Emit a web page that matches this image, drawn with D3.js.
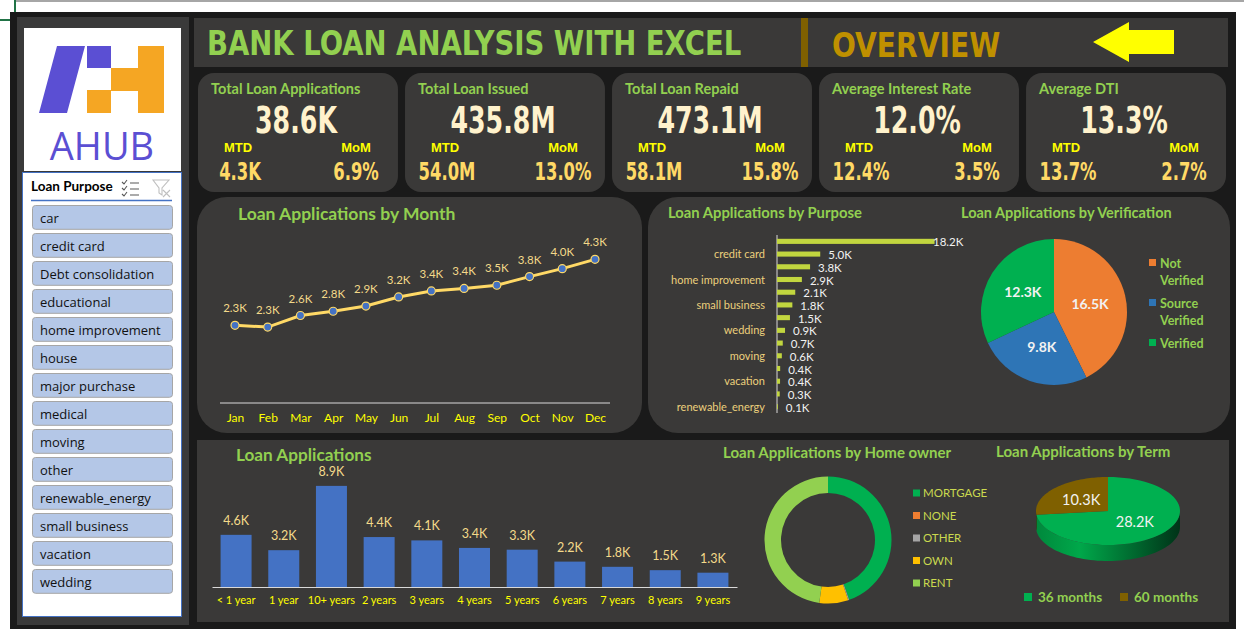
<!DOCTYPE html>
<html>
<head>
<meta charset="utf-8">
<script src="https://cdn.jsdelivr.net/npm/d3@7"></script>
<style>
	body {margin:0; background:#ffffff;}
	svg {display:block;}
</style>
</head>
<body>
<svg></svg>
<script>
// chart data

const kpiTitles = ["Total Loan Applications", "Total Loan Issued", "Total Loan Repaid", "Average Interest Rate", "Average DTI"]
const kpiValues = ["38.6K", "435.8M", "473.1M", "12.0%", "13.3%"]
const kpiMtd = ["4.3K", "54.0M", "58.1M", "12.4%", "13.7%"]
const kpiMom = ["6.9%", "13.0%", "15.8%", "3.5%", "2.7%"]

const months = ["Jan", "Feb", "Mar", "Apr", "May", "Jun", "Jul", "Aug", "Sep", "Oct", "Nov", "Dec"]
const monthApps = [2332, 2279, 2627, 2755, 2911, 3184, 3366, 3441, 3536, 3796, 4035, 4314]

const purposes = ["Debt consolidation", "credit card", "other", "home improvement", "major purchase", "small business", "car", "wedding", "medical", "moving", "house", "vacation", "educational", "renewable_energy"]
const purposeApps = [18214, 4998, 3824, 2876, 2110, 1776, 1497, 928, 667, 559, 366, 352, 315, 94]

const verLabels = ["Not Verified", "Source Verified", "Verified"]
const verApps = [16464, 9777, 12335]

const empLength = ["< 1 year", "1 year", "10+ years", "2 years", "3 years", "4 years", "5 years", "6 years", "7 years", "8 years", "9 years"]
const empApps = [4575, 3229, 8870, 4382, 4088, 3428, 3273, 2228, 1772, 1476, 1255]

const homeLabels = ["MORTGAGE", "NONE", "OTHER", "OWN", "RENT"]
const homeApps = [17198, 3, 98, 2838, 18439]

const termLabels = ["36 months", "60 months"]
const termApps = [28237, 10339]

const slicerItems = ["car", "credit card", "Debt consolidation", "educational", "home improvement", "house", "major purchase", "medical", "moving", "other", "renewable_energy", "small business", "vacation", "wedding"]

// fonts + colours
const narrow = "'Liberation Sans Narrow', 'DejaVu Sans Condensed', sans-serif"
const body = "Lato, 'Open Sans', sans-serif"
const green = "#92d050"
const panel = "#3a3938"
const fmtK = d => (d / 1000).toFixed(1) + "K"

const svg = d3.select("svg")
	.attr("width", 1244)
	.attr("height", 639)
	.attr("viewBox", "0 0 1244 639")

// condensed bold text: the installed fonts are too wide, so squeeze them
const squeezed = (parent, x, y, sx, size, fill, anchor) => parent.append("g")
	.attr("transform", `translate(${x},${y}) scale(${sx},1)`)
	.append("text")
	.attr("text-anchor", anchor)
	.attr("font-family", narrow).attr("font-weight", 700).attr("font-size", size)
	.attr("fill", fill)

//---------------- sheet background + frame
svg.append("line").attr("x1", 15).attr("x2", 1244).attr("y1", 1).attr("y2", 1)
	.attr("stroke", "#a6a6a6").attr("stroke-width", 2)
svg.append("path").attr("d", "M15,0V12M0,20H10")
	.attr("stroke", "#217346").attr("stroke-width", 2).attr("fill", "none")

svg.append("rect").attr("x", 10).attr("y", 12).attr("width", 1226).attr("height", 617).attr("fill", "#1a1a1a")
svg.append("rect").attr("x", 17).attr("y", 17).attr("width", 172).attr("height", 608).attr("fill", "#3a3a3a")

//---------------- logo
const logo = svg.append("g")
logo.append("rect").attr("x", 24).attr("y", 28).attr("width", 157).attr("height", 143).attr("fill", "#ffffff")
logo.append("path").attr("d", "M57,46L85,46L67,113L39,113Z M87,46H111V68H87Z").attr("fill", "#5b4fd3")
logo.append("path").attr("d", "M87,90H111V113H87Z M111,68H138V91H111Z M138,46H164V113H138Z").attr("fill", "#f5a623")
logo.append("text").attr("x", 102).attr("y", 160).attr("text-anchor", "middle")
	.attr("font-family", "'Open Sans', sans-serif").attr("font-weight", 400).attr("font-size", 38)
	.attr("fill", "#5b4fd3").text("AHUB")

//---------------- slicer
const slicer = svg.append("g")
slicer.append("rect").attr("x", 22.5).attr("y", 172.5).attr("width", 159).attr("height", 444)
	.attr("fill", "#ffffff").attr("stroke", "#4472c4")
slicer.append("text").attr("x", 31).attr("y", 191)
	.attr("font-family", body).attr("font-weight", 700).attr("font-size", 13.5).attr("fill", "#000")
	.text("Loan Purpose")
// multi select icon
slicer.append("path")
	.attr("d", "M122,182l2,2l3,-4M130,183h9M122,188l2,2l3,-4M130,189h9M122,194l2,2l3,-4M130,195h9")
	.attr("stroke", "#595959").attr("stroke-width", 1.1).attr("fill", "none")
// clear filter icon
slicer.append("path")
	.attr("d", "M153,180H169L162,188V195L159,193V188Z M163,190l7,7M170,190l-7,7")
	.attr("stroke", "#bfbfbf").attr("stroke-width", 1.1).attr("fill", "none")
slicer.append("line").attr("x1", 31).attr("x2", 172).attr("y1", 200.5).attr("y2", 200.5)
	.attr("stroke", "#4472c4").attr("stroke-width", 1.5)

const slicerY = d3.scaleBand()
	.domain(slicerItems)
	.range([205.5, 205.5 + 28 * (slicerItems.length - 0.15)])
	.paddingInner(0.15)
	.paddingOuter(0)

const buttons = slicer.selectAll("g.btn")
	.data(slicerItems)
	.enter()
	.append("g")
	.attr("class", "btn")
buttons.append("rect")
	.attr("x", 32.5)
	.attr("y", d => slicerY(d))
	.attr("width", 140)
	.attr("height", slicerY.bandwidth())
	.attr("rx", 3)
	.attr("fill", "#b4c7e7")
	.attr("stroke", "#a6a6a6")
buttons.append("text")
	.attr("x", 40)
	.attr("y", d => slicerY(d) + 17)
	.attr("font-family", "'Open Sans', sans-serif")
	.attr("font-size", 13)
	.attr("fill", "#111")
	.text(d => d)

//---------------- title bar
svg.append("rect").attr("x", 194).attr("y", 18).attr("width", 1034).attr("height", 49).attr("fill", panel)
squeezed(svg, 207, 55, 0.9, 34, green, "start").text("BANK LOAN ANALYSIS WITH EXCEL")
svg.append("rect").attr("x", 801).attr("y", 18).attr("width", 7).attr("height", 49).attr("fill", "#7f6000")
squeezed(svg, 832, 57, 0.92, 34, "#bf9000", "start").text("OVERVIEW")
svg.append("path").attr("d", "M1093,42L1129,22V30H1174V54H1129V62Z").attr("fill", "#ffff00")

//---------------- KPI cards
const cardX = d3.scaleBand()
	.domain(kpiTitles)
	.range([198, 1226])
	.paddingInner(0.034)
	.paddingOuter(0)

const cards = svg.selectAll("g.card")
	.data(kpiTitles)
	.enter()
	.append("g")
	.attr("class", "card")
	.attr("transform", d => `translate(${cardX(d)},73)`)

cards.append("rect")
	.attr("width", cardX.bandwidth())
	.attr("height", 119)
	.attr("rx", 16)
	.attr("fill", panel)
cards.append("text")
	.attr("x", 13).attr("y", 21)
	.attr("font-family", body).attr("font-weight", 700).attr("font-size", 14.5)
	.attr("fill", green)
	.text(d => d)
cards.each(function (d, i) {
	const card = d3.select(this)
	squeezed(card, 98, 60, 0.76, 37, "#fff2cc", "middle").text(kpiValues[i])
	squeezed(card, 42, 107, 0.76, 24, "#ffd966", "middle").text(kpiMtd[i])
	squeezed(card, 158, 107, 0.76, 24, "#ffd966", "middle").text(kpiMom[i])
})
cards.append("text")
	.attr("x", 40).attr("y", 79)
	.attr("text-anchor", "middle")
	.attr("font-family", "'Liberation Sans', Arial, sans-serif").attr("font-weight", 700).attr("font-size", 13)
	.attr("fill", "#ffff00")
	.text("MTD")
cards.append("text")
	.attr("x", 158).attr("y", 79)
	.attr("text-anchor", "middle")
	.attr("font-family", "'Liberation Sans', Arial, sans-serif").attr("font-weight", 700).attr("font-size", 13)
	.attr("fill", "#ffff00")
	.text("MoM")

//---------------- panels
svg.append("rect").attr("x", 197).attr("y", 197).attr("width", 445).attr("height", 236).attr("rx", 30).attr("fill", panel)
svg.append("rect").attr("x", 648).attr("y", 197).attr("width", 582).attr("height", 236).attr("rx", 30).attr("fill", panel)
svg.append("rect").attr("x", 197).attr("y", 440).attr("width", 1032).attr("height", 182).attr("fill", panel)

const title = (x, y, size, txt) => svg.append("text")
	.attr("x", x).attr("y", y)
	.attr("font-family", body).attr("font-weight", 700).attr("font-size", size)
	.attr("fill", green)
	.text(txt)

//---------------- loan applications by month
title(238, 220, 17.5, "Loan Applications by Month")

const monthX = d3.scalePoint()
	.domain(months)
	.range([235, 595])
const monthY = d3.scaleLinear()
	.domain([0, 5000])
	.range([403, 236.5])

const monthAxis = svg.append("g")
	.attr("transform", "translate(0,403)")
	.call(d3.axisBottom(monthX).tickSize(0).tickPadding(10))
monthAxis.select(".domain").attr("d", "M220,0H610").attr("stroke", "#d9d9d9")
monthAxis.selectAll("text").attr("font-family", body).attr("font-size", 12).attr("fill", "#ffff00")

const line = d3.line()
	.x((d, i) => monthX(months[i]))
	.y(d => monthY(d))

svg.append("path")
	.attr("d", line(monthApps))
	.attr("fill", "none")
	.attr("stroke", "#ffd966")
	.attr("stroke-width", 3)

svg.selectAll("circle.m")
	.data(monthApps)
	.enter()
	.append("circle")
	.attr("class", "m")
	.attr("cx", (d, i) => monthX(months[i]))
	.attr("cy", d => monthY(d))
	.attr("r", 4)
	.attr("fill", "#4472c4")
	.attr("stroke", "#ffd966")
	.attr("stroke-width", 1.2)

svg.selectAll("text.m")
	.data(monthApps)
	.enter()
	.append("text")
	.attr("class", "m")
	.attr("x", (d, i) => monthX(months[i]))
	.attr("y", d => monthY(d) - 13)
	.attr("text-anchor", "middle")
	.attr("font-family", body).attr("font-size", 11.5)
	.attr("fill", "#f4d98a")
	.text(fmtK)

//---------------- loan applications by purpose
title(668, 218, 14.8, "Loan Applications by Purpose")

const purY = d3.scaleBand()
	.domain(purposes)
	.range([235, 413])
	.paddingInner(0.6)
	.paddingOuter(0.3)
const purX = d3.scaleLinear()
	.domain([0, 20000])
	.range([777, 950])

svg.append("line").attr("x1", 777).attr("x2", 777).attr("y1", 235).attr("y2", 413)
	.attr("stroke", "#d9d9d9").attr("stroke-width", 1)

svg.selectAll("rect.p")
	.data(purposeApps)
	.enter()
	.append("rect")
	.attr("class", "p")
	.attr("x", purX(0))
	.attr("y", (d, i) => purY(purposes[i]))
	.attr("width", d => purX(d) - purX(0))
	.attr("height", purY.bandwidth())
	.attr("fill", "#c2d63f")

svg.selectAll("text.pv")
	.data(purposeApps)
	.enter()
	.append("text")
	.attr("class", "pv")
	.attr("x", d => Math.min(purX(d) + 8, purX.range()[1] - 17))
	.attr("y", (d, i) => purY(purposes[i]) + purY.bandwidth() / 2 + 5)
	.attr("font-family", body).attr("font-size", 11.5)
	.attr("fill", "#f2f2f2")
	.text(fmtK)

svg.selectAll("text.pc")
	.data(purposes.filter((d, i) => i % 2 == 1))
	.enter()
	.append("text")
	.attr("class", "pc")
	.attr("x", 765)
	.attr("y", d => purY(d) + purY.bandwidth() / 2 + 4)
	.attr("text-anchor", "end")
	.attr("font-family", body).attr("font-size", 11)
	.attr("fill", "#ecd07c")
	.text(d => d)

//---------------- loan applications by verification
title(961, 218, 14.5, "Loan Applications by Verification")

const verColors = ["#ed7d31", "#2e75b6", "#00b050"]
const verPie = d3.pie().sort(null)(verApps)
const verArc = d3.arc().innerRadius(0).outerRadius(73)
const verLabelArc = d3.arc().innerRadius(37).outerRadius(37)

const verG = svg.append("g").attr("transform", "translate(1054,312)")
verG.selectAll("path")
	.data(verPie)
	.enter()
	.append("path")
	.attr("d", verArc)
	.attr("fill", (d, i) => verColors[i])
verG.selectAll("text")
	.data(verPie)
	.enter()
	.append("text")
	.attr("x", d => verLabelArc.centroid(d)[0])
	.attr("y", d => verLabelArc.centroid(d)[1] + 5)
	.attr("text-anchor", "middle")
	.attr("font-family", body).attr("font-weight", 700).attr("font-size", 14)
	.attr("fill", "#f2f2f2")
	.text(d => fmtK(d.data))

const verLegend = svg.selectAll("g.vl")
	.data(verLabels)
	.enter()
	.append("g")
	.attr("class", "vl")
	.attr("transform", (d, i) => `translate(1149,${258 + i * 40})`)
verLegend.append("rect")
	.attr("width", 7).attr("height", 7)
	.attr("y", 1)
	.attr("fill", (d, i) => verColors[i])
verLegend.append("text")
	.attr("font-family", body).attr("font-weight", 700).attr("font-size", 12.5)
	.attr("fill", green)
	.selectAll("tspan")
	.data(d => d.split(" "))
	.enter()
	.append("tspan")
	.attr("x", 11)
	.attr("y", (d, i) => 10 + i * 17)
	.text(d => d)

//---------------- loan applications by employee length
title(236, 461, 17.2, "Loan Applications")

const empX = d3.scaleBand()
	.domain(empLength)
	.range([212, 737])
	.paddingInner(0.35)
	.paddingOuter(0.18)
const empY = d3.scaleLinear()
	.domain([0, 10000])
	.range([587, 473])

svg.selectAll("rect.e")
	.data(empApps)
	.enter()
	.append("rect")
	.attr("class", "e")
	.attr("x", (d, i) => empX(empLength[i]))
	.attr("y", d => empY(d))
	.attr("width", empX.bandwidth())
	.attr("height", d => empY(0) - empY(d))
	.attr("fill", "#4472c4")

svg.selectAll("text.e")
	.data(empApps)
	.enter()
	.append("text")
	.attr("class", "e")
	.attr("x", (d, i) => empX(empLength[i]) + empX.bandwidth() / 2)
	.attr("y", d => empY(d) - 10)
	.attr("text-anchor", "middle")
	.attr("font-family", body).attr("font-size", 12.5)
	.attr("fill", "#f4d98a")
	.text(fmtK)

const empAxis = svg.append("g")
	.attr("transform", "translate(0,587)")
	.call(d3.axisBottom(empX).tickSize(0).tickPadding(9))
empAxis.select(".domain").attr("stroke", "#d9d9d9")
empAxis.selectAll("text").attr("font-family", body).attr("font-size", 11).attr("fill", "#ffff00")

//---------------- loan applications by home owner
title(723, 458, 15, "Loan Applications by Home owner")

const homeColors = ["#00b050", "#ed7d31", "#a5a5a5", "#ffc000", "#92d050"]
const homePie = d3.pie().sort(null)(homeApps)
const homeArc = d3.arc().innerRadius(47).outerRadius(63.5)

svg.append("g")
	.attr("transform", "translate(828,540)")
	.selectAll("path")
	.data(homePie)
	.enter()
	.append("path")
	.attr("d", homeArc)
	.attr("fill", (d, i) => homeColors[i])

const homeLegend = svg.selectAll("g.hl")
	.data(homeLabels)
	.enter()
	.append("g")
	.attr("class", "hl")
	.attr("transform", (d, i) => `translate(913,${493 + i * 22.5})`)
homeLegend.append("rect")
	.attr("y", -3.5).attr("width", 7).attr("height", 7)
	.attr("fill", (d, i) => homeColors[i])
homeLegend.append("text")
	.attr("x", 10).attr("y", 4)
	.attr("font-family", body).attr("font-size", 11.5)
	.attr("fill", "#cbd94f")
	.text(d => d)

//---------------- loan applications by term (3d pie)
title(996, 457, 15, "Loan Applications by Term")

const termColors = ["#00b050", "#7f6000"]
const tcx = 1108, tcy = 511, trx = 72, tryy = 34, depth = 16
const termPie = d3.pie().sort(null)(termApps)
const ell = (a, k) => [tcx + k * trx * Math.sin(a), tcy - k * tryy * Math.cos(a)]

const defs = svg.append("defs")
const sideGrad = [["#00883c", "#00a84a", "#003318"], ["#5a4400", "#6e5300", "#3a2c00"]]
sideGrad.forEach((c, i) => {
	const g = defs.append("linearGradient").attr("id", "side" + i)
	g.append("stop").attr("offset", "0%").attr("stop-color", c[0])
	g.append("stop").attr("offset", "30%").attr("stop-color", c[1])
	g.append("stop").attr("offset", "100%").attr("stop-color", c[2])
})

const topPath = s => {
	const pts = d3.range(61).map(j => ell(s.startAngle + (s.endAngle - s.startAngle) * j / 60, 1))
	return `M${tcx},${tcy}L` + pts.map(p => p.join(",")).join("L") + "Z"
}
const sidePath = s => {
	const a0 = Math.max(s.startAngle, Math.PI / 2)
	const a1 = Math.min(s.endAngle, Math.PI * 1.5)
	if (a1 <= a0) return null
	const top = d3.range(61).map(j => ell(a0 + (a1 - a0) * j / 60, 1))
	const bot = top.map(p => [p[0], p[1] + depth]).reverse()
	return "M" + top.concat(bot).map(p => p.join(",")).join("L") + "Z"
}

svg.selectAll("path.ts")
	.data(termPie)
	.enter()
	.append("path")
	.attr("class", "ts")
	.attr("d", sidePath)
	.attr("fill", (d, i) => `url(#side${i})`)
svg.selectAll("path.tt")
	.data(termPie)
	.enter()
	.append("path")
	.attr("class", "tt")
	.attr("d", topPath)
	.attr("fill", (d, i) => termColors[i])
svg.selectAll("text.tl")
	.data(termPie)
	.enter()
	.append("text")
	.attr("class", "tl")
	.attr("x", d => ell((d.startAngle + d.endAngle) / 2, 0.5)[0])
	.attr("y", d => ell((d.startAngle + d.endAngle) / 2, 0.5)[1] + 5)
	.attr("text-anchor", "middle")
	.attr("font-family", body).attr("font-size", 14.5)
	.attr("fill", "#f2f2f2")
	.text(d => fmtK(d.data))

const termLegendX = d3.scalePoint()
	.domain(termLabels)
	.range([1024, 1120])
const termLegend = svg.selectAll("g.tlg")
	.data(termLabels)
	.enter()
	.append("g")
	.attr("class", "tlg")
	.attr("transform", d => `translate(${termLegendX(d)},597)`)
termLegend.append("rect")
	.attr("y", -4).attr("width", 8).attr("height", 8)
	.attr("fill", (d, i) => termColors[i])
termLegend.append("text")
	.attr("x", 14).attr("y", 5)
	.attr("font-family", body).attr("font-weight", 700).attr("font-size", 13.5)
	.attr("fill", green)
	.text(d => d)
</script>
</body>
</html>
